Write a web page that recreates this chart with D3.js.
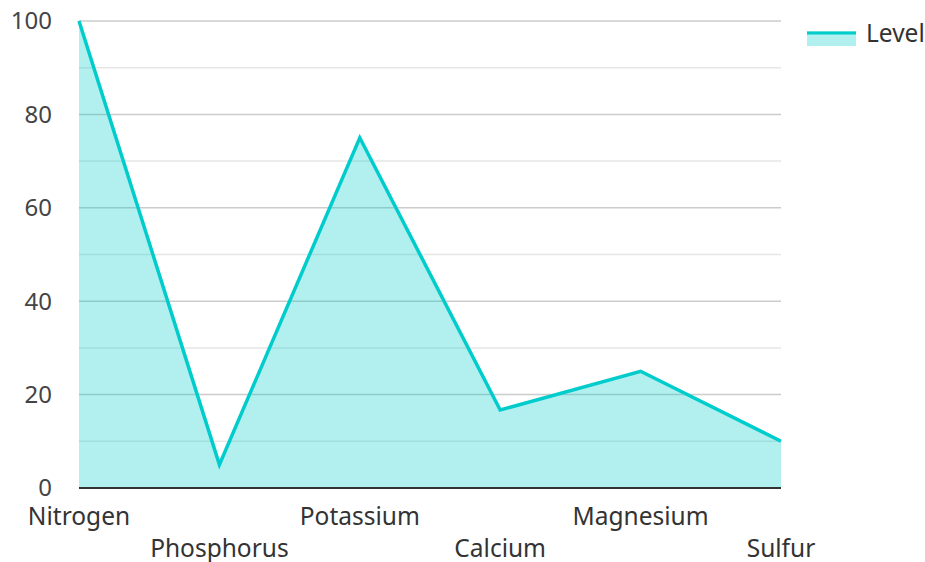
<!DOCTYPE html>
<html><head><meta charset="utf-8">
<script src="https://cdn.jsdelivr.net/npm/d3@7"></script>
<style>body{margin:0;background:#fff}svg{display:block;font-family:"Noto Sans",sans-serif}</style>
</head><body><svg id="c" width="925" height="562"></svg>
<script>
const categories = ["Nitrogen","Phosphorus","Potassium","Calcium","Magnesium","Sulfur"];
const levels = [100, 5, 75, 16.7, 25, 10];
const yTicks = [0,20,40,60,80,100];
const minorTicks = [10,30,50,70,90];
const seriesName = "Level";

const svg = d3.select("#c");
const L=79, R=781, T=21, B=488;
const color="#00cccc";
const x = d3.scalePoint().domain(categories).range([L,R]);
const y = d3.scaleLinear().domain([0,100]).range([B,T]);

const g = svg.append("g");
g.selectAll(".minor").data(minorTicks).join("line")
  .attr("x1",L).attr("x2",R).attr("y1",d=>y(d)).attr("y2",d=>y(d))
  .attr("stroke","#e6e6e6").attr("stroke-width",1.5);
g.selectAll(".major").data(yTicks.filter(d=>d>0)).join("line")
  .attr("x1",L).attr("x2",R).attr("y1",d=>y(d)).attr("y2",d=>y(d))
  .attr("stroke","#cccccc").attr("stroke-width",1.5);

const data = categories.map((c,i)=>({c,v:levels[i]}));
svg.append("path").datum(data)
  .attr("d", d3.area().x(d=>x(d.c)).y0(B).y1(d=>y(d.v)))
  .attr("fill",color).attr("fill-opacity",0.3);

svg.append("line").attr("x1",L).attr("x2",R).attr("y1",B).attr("y2",B)
  .attr("stroke","#333").attr("stroke-width",2);

svg.append("path").datum(data)
  .attr("d", d3.line().x(d=>x(d.c)).y(d=>y(d.v)))
  .attr("fill","none").attr("stroke",color).attr("stroke-width",3.5).attr("stroke-linejoin","miter");

svg.append("g").selectAll("text").data(yTicks).join("text")
  .attr("x",52).attr("y",d=>y(d)).attr("dy","0.35em").attr("text-anchor","end")
  .attr("font-size",24).attr("fill","#444").text(d=>d);

svg.append("g").selectAll("text").data(categories).join("text")
  .attr("x",d=>x(d)).attr("y",(d,i)=> i%2===0 ? 525 : 557).attr("text-anchor","middle")
  .attr("font-size",24.5).attr("fill","#333").text(d=>d);

const lg = svg.append("g");
lg.append("rect").attr("x",807).attr("y",31).attr("width",49).attr("height",15).attr("fill",color).attr("fill-opacity",0.3);
lg.append("line").attr("x1",807).attr("x2",856).attr("y1",33).attr("y2",33).attr("stroke",color).attr("stroke-width",3);
lg.append("text").attr("x",866).attr("y",42).attr("font-size",24.5).attr("fill","#333").text(seriesName);
</script></body></html>
